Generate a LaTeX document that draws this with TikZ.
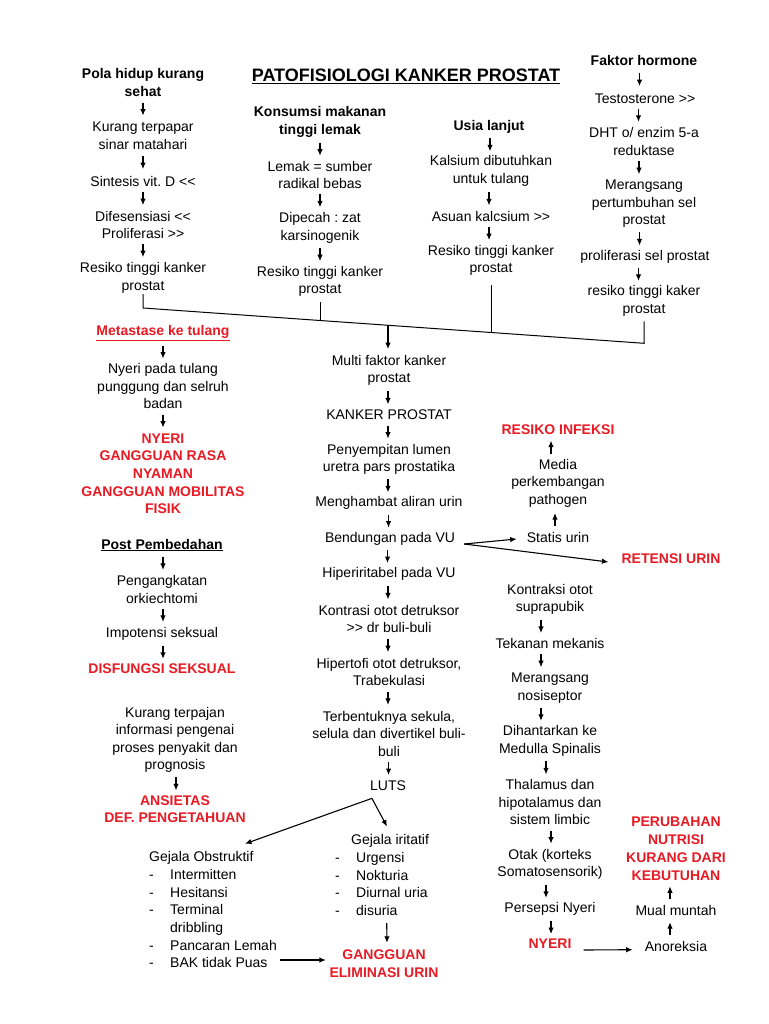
\documentclass[tikz,border=0pt]{standalone}
\usepackage{fontspec}
\setmainfont{Liberation Sans}
\usetikzlibrary{arrows.meta,calc}
\definecolor{dxred}{RGB}{232,26,36}
\frenchspacing
\tikzset{
 txt/.style={align=center,inner sep=0pt,font=\fontsize{14}{17.5}\selectfont},
 hd/.style={align=center,inner sep=0pt,font=\fontsize{14}{18}\selectfont\bfseries},
 rd/.style={align=center,inner sep=0pt,font=\fontsize{14}{17.7}\selectfont\bfseries,text=dxred},
 lst/.style={align=left,inner sep=0pt,font=\fontsize{14}{17.7}\selectfont},
 arr/.style={line width=1.1pt,-{Latex[length=6.5pt,width=5.5pt]}},
 lin/.style={line width=1pt},
}
\newcommand\myDown[3][0]{\draw[arr] ($(#2.south)!0.5!(#3.north)+(#1,-6.5)$) -- ++(0,13);}
\newcommand\myUp[3][0]{\draw[arr] ($(#2.north)!0.5!(#3.south)+(#1,6.5)$) -- ++(0,-13);}
\newcommand\dlt{<\kern0pt<}
\newcommand\dgt{>\kern0pt>}
\begin{document}
\begin{tikzpicture}[x=1pt,y=-1pt]
\fill[white] (0,0) rectangle (768,1024);
\useasboundingbox (0,0) rectangle (768,1024);

% title
\node[inner sep=0pt,font=\fontsize{18}{20}\selectfont\bfseries] (title) at (406,76) {\underline{PATOFISIOLOGI KANKER PROSTAT}};

% column 1
\node[hd] (h1) at (143,82) {Pola hidup kurang\\sehat};
\node[txt] (a1) at (143,135.7) {Kurang terpapar\\sinar matahari};
\node[txt] (a2) at (143,181) {Sintesis vit. D \dlt};
\node[txt] (a3) at (143,225) {Difesensiasi \dlt\\Proliferasi \dgt};
\node[txt] (r1) at (143,277.7) {Resiko tinggi kanker\\prostat};
\myDown{h1}{a1}\myDown{a1}{a2}\myDown{a2}{a3}\myDown{a3}{r1}

% column 2
\node[hd] (h2) at (320,121.7) {Konsumsi makanan\\tinggi lemak};
\node[txt] (b1) at (320,175) {Lemak = sumber\\radikal bebas};
\node[txt] (b2) at (320,228) {Dipecah : zat\\karsinogenik};
\node[txt] (r2) at (320,281.3) {Resiko tinggi kanker\\prostat};
\myDown{h2}{b1}\myDown{b1}{b2}\myDown{b2}{r2}

% column 3
\node[hd] (h3) at (489,127.3) {Usia lanjut};
\node[txt] (c1) at (491,171) {Kalsium dibutuhkan\\untuk tulang};
\node[txt] (c2) at (491,216.7) {Asuan kalcsium \dgt};
\node[txt] (r3) at (491,260.5) {Resiko tinggi kanker\\prostat};
\myDown{h3}{c1}\myDown[-2]{c1}{c2}\myDown[-2]{c2}{r3}

% column 4
\node[hd] (h4) at (644,60.7) {Faktor hormone};
\node[txt] (d1) at (645,98.3) {Testosterone \dgt};
\node[txt] (d2) at (644,141.3) {DHT o/ enzim 5-a\\reduktase};
\node[txt] (d3) at (644,204) {Merangsang\\pertumbuhan sel\\prostat};
\node[txt] (d4) at (645,256.7) {proliferasi sel prostat};
\node[txt] (r4) at (644,300.8) {resiko tinggi kaker\\prostat};
\myDown[-5]{h4}{d1}\myDown[-6]{d1}{d2}\myDown[-5]{d2}{d3}\myDown[-5]{d3}{d4}\myDown[-6]{d4}{r4}

% merging line
\coordinate (j1) at (143,308);
\coordinate (j2) at (320,320.5);
\coordinate (j3) at (491,332.5);
\coordinate (j4) at (644,343.3);
\coordinate (jm) at (388,325.3);
\draw[lin] ([yshift=-1pt]r1.south) -- (j1) -- (j2) -- (j3) -- (j4) -- ([yshift=-5pt]r4.south);
\draw[lin] ([yshift=-5pt]r2.south) -- (j2);
\draw[lin] ([yshift=-9pt]r3.south) -- (j3);

% central column
\node[txt] (n1) at (389,370.5) {Multi faktor kanker\\prostat};
\node[txt] (n2) at (389,415) {KANKER PROSTAT};
\node[txt] (n3) at (389,459.5) {Penyempitan lumen\\uretra pars prostatika};
\node[txt] (n4) at (389,503.3) {Menghambat aliran urin};
\node[txt] (n5) at (390,539) {Bendungan pada VU};
\node[txt] (n6) at (389,574) {Hiperiritabel pada VU};
\node[txt] (n7) at (389,619.2) {Kontrasi otot detruksor\\\dgt{} dr buli-buli};
\node[txt] (n8) at (389,672) {Hipertofi otot detruksor,\\Trabekulasi};
\node[txt] (n9) at (389,733.6) {Terbentuknya sekula,\\selula dan divertikel buli-\\buli};
\node[txt] (n10) at (388,785.7) {LUTS};
\draw[arr] (jm) -- ([xshift=-1pt,yshift=6pt]n1.north);
\myDown[-1]{n1}{n2}\myDown[-1]{n2}{n3}\myDown[-1]{n3}{n4}\myDown[-1]{n4}{n5}
\myDown[-2]{n5}{n6}\myDown[-1]{n6}{n7}\myDown[-1]{n7}{n8}\myDown[-1]{n8}{n9}\myDown{n9}{n10}

% left middle
\node[rd] (m0) at (163,333) {\underline{Metastase ke tulang}};
\node[txt] (m1) at (163,386.1) {Nyeri pada tulang\\punggung dan selruh\\badan};
\node[rd] (m2) at (163,473.7) {NYERI\\GANGGUAN RASA\\NYAMAN\\GANGGUAN MOBILITAS\\FISIK};
\myDown{m0}{m1}\myDown{m1}{m2}

\node[hd] (p0) at (162,545) {\underline{Post Pembedahan}};
\node[txt] (p1) at (162,589.5) {Pengangkatan\\orkiechtomi};
\node[txt] (p2) at (162,634) {Impotensi seksual};
\node[rd] (p3) at (162,669) {DISFUNGSI SEKSUAL};
\myDown[1]{p0}{p1}\myDown[1]{p1}{p2}\myDown[1]{p2}{p3}

\node[txt] (k1) at (175,739.7) {Kurang terpajan\\informasi pengenai\\proses penyakit dan\\prognosis};
\node[rd] (k2) at (175,809.2) {ANSIETAS\\DEF. PENGETAHUAN};
\myDown[1]{k1}{k2}

% right: infection / retention
\node[rd] (s0) at (558,430) {RESIKO INFEKSI};
\node[txt] (s1) at (558,483.2) {Media\\perkembangan\\pathogen};
\node[txt] (s2) at (558,537) {Statis urin};
\node[rd] (ret) at (671,559) {RETENSI URIN};
\myUp[-3]{s2}{s1}\myUp[-7]{s1}{s0}
\draw[arr] ([xshift=9pt,yshift=-5pt]n5.east) -- ([xshift=-10pt,yshift=-2pt]s2.west);
\draw[arr] ([xshift=9pt,yshift=-5pt]n5.east) -- ([xshift=-13pt,yshift=-3pt]ret.west);

% right: pain chain
\node[txt] (t1) at (550,599.5) {Kontraksi otot\\suprapubik};
\node[txt] (t2) at (550,643.3) {Tekanan mekanis};
\node[txt] (t3) at (550,688) {Merangsang\\nosiseptor};
\node[txt] (t4) at (550,740.8) {Dihantarkan ke\\Medulla Spinalis};
\node[txt] (t5) at (550,802.4) {Thalamus dan\\hipotalamus dan\\sistem limbic};
\node[txt] (t6) at (550,864.5) {Otak (korteks\\Somatosensorik)};
\node[txt] (t7) at (550,909.3) {Persepsi Nyeri};
\node[rd] (t8) at (550,944) {NYERI};
\myDown[-9]{t1}{t2}\myDown[-9]{t2}{t3}\myDown[-9]{t3}{t4}\myDown[-4]{t4}{t5}
\myDown[1]{t5}{t6}\myDown[-4]{t6}{t7}\myDown[1]{t7}{t8}

\node[rd] (u0) at (676,848.7) {PERUBAHAN\\NUTRISI\\KURANG DARI\\KEBUTUHAN};
\node[txt] (u1) at (676,910.7) {Mual muntah};
\node[txt] (u2) at (676,946.7) {Anoreksia};
\myUp[-6]{u2}{u1}\myUp[-6]{u1}{u0}
\draw[arr] ([xshift=12pt,yshift=-6pt]t8.east) -- ([xshift=-12pt,yshift=-3pt]u2.west);

% LUTS branches
\node[lst,anchor=west] (g1) at (149,909.7) {Gejala Obstruktif\\
\makebox[21pt][l]{-}Intermitten\\
\makebox[21pt][l]{-}Hesitansi\\
\makebox[21pt][l]{-}Terminal\\
\makebox[21pt][l]{}dribbling\\
\makebox[21pt][l]{-}Pancaran Lemah\\
\makebox[21pt][l]{-}BAK tidak Puas};
\node[lst,anchor=west] (g2) at (335,875) {\hspace*{16pt}Gejala iritatif\\
\makebox[21pt][l]{-}Urgensi\\
\makebox[21pt][l]{-}Nokturia\\
\makebox[21pt][l]{-}Diurnal uria\\
\makebox[21pt][l]{-}disuria};
\node[rd] (e1) at (384,963.8) {GANGGUAN\\ELIMINASI URIN};
\coordinate (lx) at ([xshift=2pt,yshift=-7.5pt]n10.south west);
\draw[arr] (lx) -- ([xshift=96pt,yshift=7.5pt]g1.north west);
\draw[arr] (lx) -- ([xshift=52pt,yshift=7.8pt]g2.north west);
\coordinate (gi) at (386.7,923);
\draw[arr] (gi) -- ([xshift=3pt,yshift=7pt]e1.north);
\coordinate (bk) at (280,960);
\draw[arr] (bk) -- ([xshift=-3.5pt,yshift=3.8pt]e1.west);
\end{tikzpicture}
\end{document}
